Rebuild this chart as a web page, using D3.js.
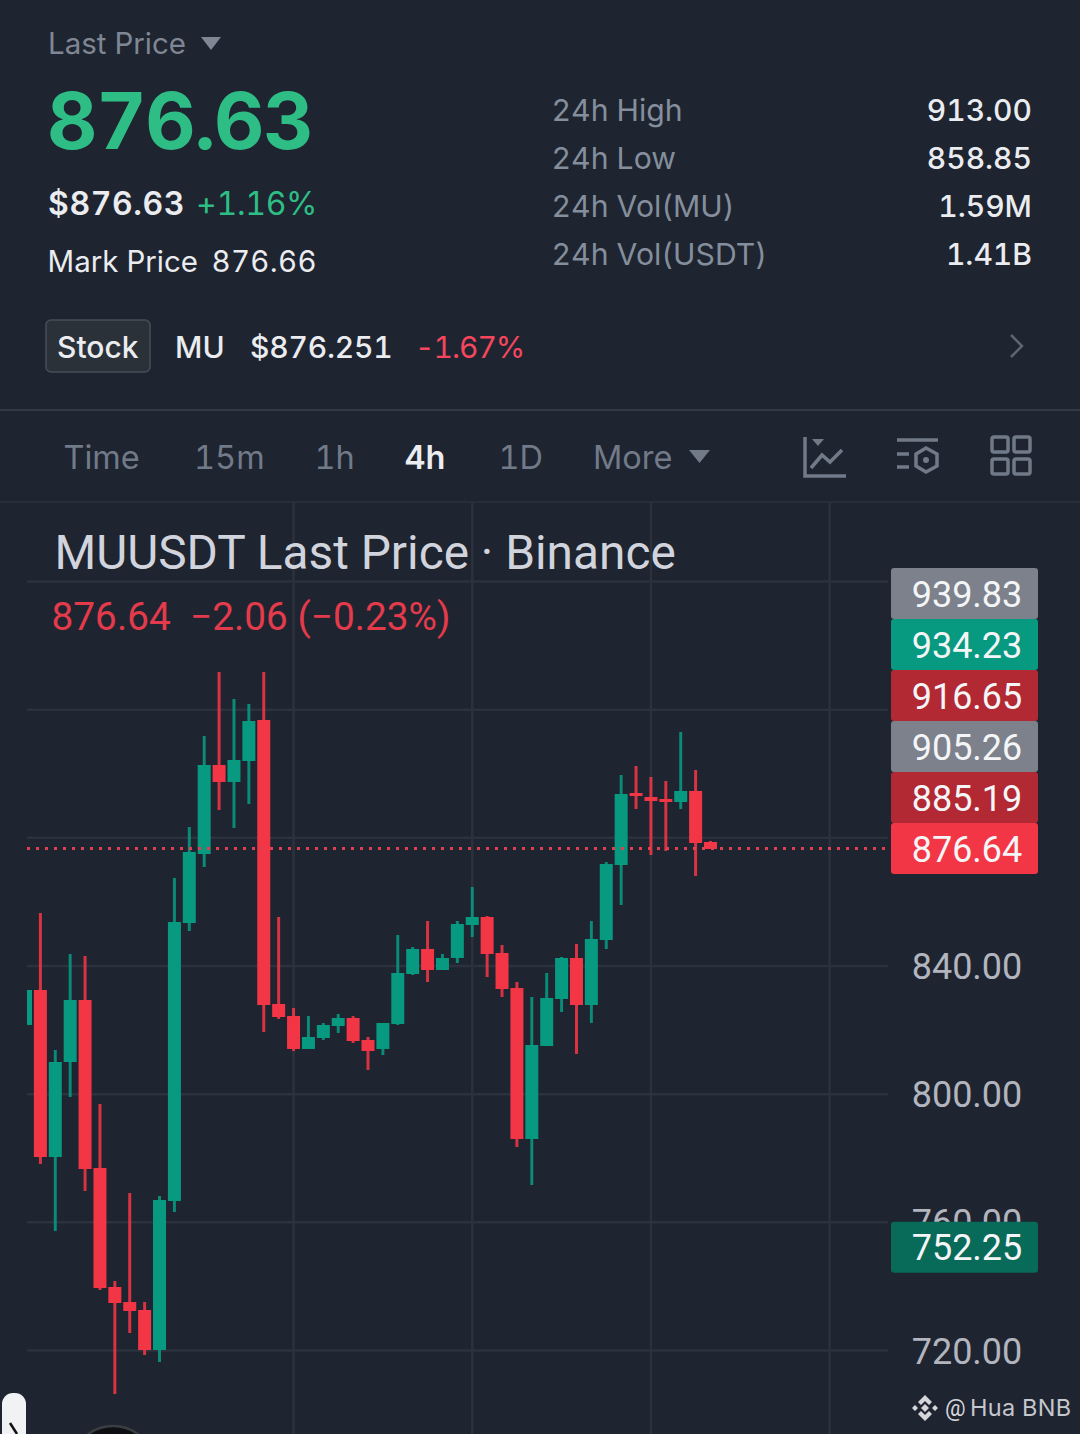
<!DOCTYPE html>
<html><head><meta charset="utf-8">
<script src="https://cdn.jsdelivr.net/npm/d3@7"></script>
<style>html,body{margin:0;padding:0;background:#1e2430;overflow:hidden}svg{display:block}text{font-variant-numeric:tabular-nums}</style>
</head><body><svg id="c" width="1080" height="1434"></svg>
<script>
// candle values, oldest to newest
const opens  = [821.59,832.51,780.39,810.04,829.39,776.96,739.82,735.13,732.64,720.15,766.66,853.42,874.96,902.73,897.43,903.98,916.78,828.14,824.39,814.10,817.53,821.27,823.77,816.90,814.10,821.90,837.50,845.31,838.75,842.50,852.80,855.29,844.06,833.13,786.01,815.03,829.70,842.50,827.83,848.11,871.52,893.99,892.74,892.12,891.18,894.62,878.70];
const highs  = [832.51,856.54,813.78,843.75,843.12,796.93,741.69,769.15,735.13,768.22,867.46,883.38,911.78,931.76,923.33,921.77,931.76,855.29,826.89,824.39,822.21,825.02,824.39,817.84,822.21,849.68,845.93,854.05,843.75,854.05,864.66,855.61,846.55,835.01,830.32,837.82,842.81,846.87,854.05,872.46,899.61,902.42,898.99,897.74,913.03,901.17,879.01];
const lows   = [821.59,778.20,757.29,799.11,769.78,738.88,706.42,725.46,718.59,716.41,763.22,850.92,870.90,888.69,883.07,890.56,819.40,823.46,813.47,814.10,816.90,819.09,815.97,807.54,812.22,821.59,837.19,835.01,838.75,840.94,849.05,836.57,830.32,783.51,771.65,815.03,825.64,812.54,822.21,845.31,859.04,889.00,874.64,875.89,889.00,868.09,876.52];
const closes = [832.51,780.39,810.04,829.39,776.64,739.50,734.82,732.33,720.15,766.97,853.73,875.58,902.73,897.43,904.29,916.46,827.83,824.08,814.10,817.84,821.59,823.77,816.59,813.47,822.21,837.82,845.31,838.75,842.50,853.11,855.29,843.75,832.82,786.01,815.34,830.01,842.50,827.83,848.43,871.83,893.68,893.06,891.50,891.18,894.62,878.39,876.52];
const gridPrices = [720,760,800,840,880,920,960];
const axisLabels = [720,760,800,840];
const verticalEvery = [18,30,42,54];
const stackTags = ["939.83","934.23","916.65","905.26","885.19","876.64"];
const stackFills = ["#7c818c","#089981","#b22833","#7c818c","#b22833","#f23645"];
const lastPrice = 876.64;
const lowTag = 752.25;
const tabs = ["Time","15m","1h","4h","1D","More"];
const statNames = ["24h High","24h Low","24h Vol(MU)","24h Vol(USDT)"];
const statValues = ["913.00","858.85","1.59M","1.41B"];

const RED="#f23645",GREEN="#089981",BG="#1e2430",GREY="#848e9c",LIGHT="#eaecef",UI="Inter, 'Noto Sans', sans-serif",CH="Roboto, sans-serif";
const svg=d3.select("#c");
svg.append("rect").attr("width",1080).attr("height",1434).attr("fill",BG);
const t=(x,y,s,size,fill,o={})=>svg.append("text").attr("x",x).attr("y",y).text(s)
  .attr("font-family",o.font||UI).attr("font-size",size).attr("fill",fill)
  .attr("font-weight",o.w||400).attr("text-anchor",o.a||"start").attr("letter-spacing",o.ls||0);

// header
t(48,54,"Last Price",29.500,"#7f8794");
svg.append("path").attr("d","M201 37H221L211 50Z").attr("fill","#7f8794");
t(47,149,"876.63",78,"#2ebd85",{w:700,ls:-1.3});
t(48,215,"$876.63",32,LIGHT,{w:600,ls:.6});
t(196,215,"+1.16%",32,"#2ebd85",{w:400,ls:-.3});
t(47.5,272,"Mark Price",29.500,LIGHT);
t(211.5,272,"876.66",29.500,LIGHT,{ls:.3});
const statRow=d3.scaleLinear().domain([0,3]).range([121,265]);
statNames.forEach((s,i)=>{t(551.5,statRow(i),s,30.200,GREY);t(1032,statRow(i),statValues[i],30,LIGHT,{a:"end",w:500});});
svg.append("rect").attr("x",46).attr("y",320).attr("width",104).attr("height",52).attr("rx",5).attr("fill","#2b3139").attr("stroke","#474d57").attr("stroke-width",1.5);
t(57,358,"Stock",30,LIGHT,{w:500});
t(175,358,"MU",30,LIGHT,{w:500});
t(250,358,"$876.251",30,LIGHT,{w:500,ls:-.2});
t(415,358,"-1.67%",30,"#f6465d",{ls:-1});
svg.append("path").attr("d","M1011 335L1022 346L1011 357").attr("fill","none").attr("stroke","#5e6673").attr("stroke-width",2.5);
svg.append("rect").attr("x",0).attr("y",409).attr("width",1080).attr("height",2).attr("fill","#333a44");
svg.append("rect").attr("x",0).attr("y",501).attr("width",1080).attr("height",2).attr("fill","#282e38");

// tabs
const tabX=[63.5,194,314.5,404.5,498.5,593];
tabs.forEach((s,i)=>t(tabX[i],469,s,32.500,s==="4h"?LIGHT:"#717a88",{w:s==="4h"?600:400}));
svg.append("path").attr("d","M689 450H710L699.500 463Z").attr("fill","#717a88");
const ic=svg.append("g").attr("fill","none").attr("stroke","#717a88").attr("stroke-width",3.5);
ic.append("path").attr("d","M805 437V476H846M811 468L822 455L830 462L842 450");
ic.append("path").attr("d","M812 439H824L818 446Z").attr("fill","#717a88").attr("stroke","none");
ic.append("path").attr("d","M897 440H938M897 454H909M897 467H909");
ic.append("path").attr("d","M926 448L937 454V466L926 472L916 466V454Z");
ic.append("circle").attr("cx",926).attr("cy",460).attr("r",3).attr("fill","#717a88").attr("stroke","none");
[[992,437],[1014,437],[992,459],[1014,459]].forEach(p=>ic.append("rect").attr("x",p[0]).attr("y",p[1]).attr("width",16).attr("height",15).attr("rx",2));

// chart scales
const idx=d3.range(opens.length);
const x=d3.scaleLinear().domain([0,46]).range([25.5,710.5]);
const y=d3.scaleLinear().domain([720,840]).range([1350.5,966]);
const right=888;

// gridlines
svg.append("g").selectAll("line").data(verticalEvery).join("line")
  .attr("x1",d=>x(d)).attr("x2",d=>x(d)).attr("y1",503).attr("y2",1434)
  .attr("stroke","#2c323d").attr("stroke-width",2.500);
svg.append("g").selectAll("line").data(gridPrices).join("line")
  .attr("x1",27).attr("x2",right).attr("y1",d=>y(d)).attr("y2",d=>y(d))
  .attr("stroke","#2c323d").attr("stroke-width",2.500);

// title
t(54.5,569,"MUUSDT Last Price · Binance",47.800,"#d1d4dc",{font:CH});
t(51.5,630,"876.64\u00a0\u00a0−2.06 (−0.23%)",38.800,"#e33b4b",{font:CH});

// candles
svg.append("defs").append("clipPath").attr("id","plot").append("rect").attr("x",27).attr("y",503).attr("width",861).attr("height",931);
const plot=svg.append("g").attr("clip-path","url(#plot)");
const col=i=>closes[i]>=opens[i]?GREEN:RED;
plot.append("g").selectAll("line").data(idx).join("line")
  .attr("x1",i=>x(i)).attr("x2",i=>x(i)).attr("y1",i=>y(highs[i])).attr("y2",i=>y(lows[i]))
  .attr("stroke",col).attr("stroke-width",3).attr("opacity",.88);
plot.append("g").selectAll("rect").data(idx).join("rect")
  .attr("x",i=>x(i)-6.500).attr("width",13)
  .attr("y",i=>Math.min(y(opens[i]),y(closes[i])))
  .attr("height",i=>Math.max(2.500,Math.abs(y(opens[i])-y(closes[i]))))
  .attr("fill",col);

// last price dotted line
svg.append("line").attr("x1",27).attr("x2",right).attr("y1",y(lastPrice)).attr("y2",y(lastPrice))
  .attr("stroke","#e2404f").attr("stroke-width",3).attr("stroke-dasharray","3 6");

// axis labels
svg.append("g").selectAll("text").data(axisLabels).join("text")
  .attr("x",967).attr("y",d=>y(d)+13).attr("text-anchor","middle")
  .attr("font-family",CH).attr("font-size",36).attr("fill","#b2b5be").text(d=>d3.format(".2f")(d));

// stacked tags
const band=d3.scaleBand().domain(stackTags).range([568,874]);
const tags=svg.append("g").selectAll("g").data(stackTags).join("g");
tags.append("rect").attr("x",891).attr("width",147).attr("y",d=>band(d)).attr("height",band.bandwidth())
  .attr("rx",3).attr("fill",(d,i)=>stackFills[i]);
tags.append("text").attr("x",967).attr("y",d=>band(d)+band.bandwidth()/2+13).attr("text-anchor","middle")
  .attr("font-family",CH).attr("font-size",36).attr("fill","#f4f5f7").text(d=>d);

// low tag
svg.append("rect").attr("x",891).attr("width",147).attr("y",y(lowTag)-25.500).attr("height",51).attr("rx",3).attr("fill","#086a58");
t(967,y(lowTag)+13,d3.format(".2f")(lowTag),36,"#f4f5f7",{font:CH,a:"middle"});

// watermark
const wm=svg.append("g").attr("fill","#d5d7dc");
wm.append("path").attr("d","M925 1395L932 1402L929 1405L925 1401L921 1405L918 1402ZM925 1421L918 1414L921 1411L925 1415L929 1411L932 1414ZM912 1408L915 1405L918 1408L915 1411ZM932 1408L935 1405L938 1408L935 1411ZM925 1404L929 1408L925 1412L921 1408Z");
t(945,1416,"@",23,"#d5d7dc",{font:CH});
t(970,1416,"Hua BNB",23.500,"#c4c7cd",{font:UI,ls:.3});

// floating controls at the foot
svg.append("rect").attr("x",2).attr("y",1393).attr("width",24).attr("height",60).attr("rx",11).attr("fill","#f1f2f4");
svg.append("path").attr("d","M10 1423L17 1434").attr("stroke","#111").attr("stroke-width",2.500).attr("fill","none");
svg.append("circle").attr("cx",113).attr("cy",1468).attr("r",42).attr("fill","#0d0f13").attr("stroke","#3a3d42").attr("stroke-width",2.500);
</script></body></html>
